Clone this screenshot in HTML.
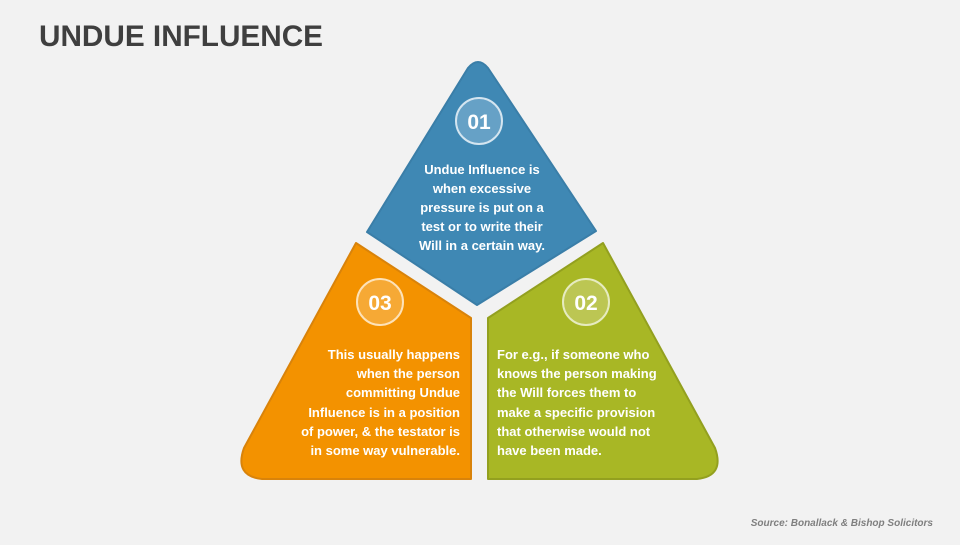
<!DOCTYPE html>
<html><head><style>
body{margin:0;width:960px;height:540px;background:#f2f2f2;overflow:hidden;font-family:"Liberation Sans",sans-serif}
</style></head><body>
<svg width="960" height="540" viewBox="0 0 960 540" xmlns="http://www.w3.org/2000/svg">
<text x="39" y="46" font-family="Liberation Sans" font-weight="bold" font-size="30" textLength="284" lengthAdjust="spacingAndGlyphs" fill="#3f3f3f">UNDUE INFLUENCE</text>
<g stroke-linejoin="round">
<path d="M468 68 Q478 56 488 68 L596 231 L477 305 L367 232 Z" fill="#3f88b4" stroke="#3a7ea8" stroke-width="2"/>
<path d="M356 243 L471 318 L471 479 L262 479 Q234 476 244 448 Z" fill="#f39200" stroke="#d9830a" stroke-width="2"/>
<path d="M603 243 L488 318 L488 479 L697 479 Q725 476 715 448 Z" fill="#a8b725" stroke="#93a01f" stroke-width="2"/>
</g>
<g font-family="Liberation Sans" font-weight="bold" fill="#fff" text-anchor="middle">
<circle cx="479" cy="121" r="23" fill="#66a1c6" stroke="#d4e5f0" stroke-width="2"/>
<text x="479" y="129" font-size="21">01</text>
<circle cx="380" cy="302" r="23" fill="#f6a935" stroke="#fde2b8" stroke-width="2"/>
<text x="380" y="310" font-size="21">03</text>
<circle cx="586" cy="302" r="23" fill="#bcc653" stroke="#e6ebc0" stroke-width="2"/>
<text x="586" y="310" font-size="21">02</text>
<g font-size="13">
<text x="482" y="174">Undue Influence is</text>
<text x="482" y="193">when excessive</text>
<text x="482" y="212">pressure is put on a</text>
<text x="482" y="231">test or to write their</text>
<text x="482" y="250">Will in a certain way.</text>
</g>
<g font-size="13" text-anchor="end">
<text x="460" y="359">This usually happens</text>
<text x="460" y="378">when the person</text>
<text x="460" y="397">committing Undue</text>
<text x="460" y="417">Influence is in a position</text>
<text x="460" y="436">of power, &amp; the testator is</text>
<text x="460" y="455">in some way vulnerable.</text>
</g>
<g font-size="13" text-anchor="start">
<text x="497" y="359">For e.g., if someone who</text>
<text x="497" y="378">knows the person making</text>
<text x="497" y="397">the Will forces them to</text>
<text x="497" y="417">make a specific provision</text>
<text x="497" y="436">that otherwise would not</text>
<text x="497" y="455">have been made.</text>
</g>
</g>
<text x="933" y="526" text-anchor="end" font-family="Liberation Sans" font-weight="bold" font-style="italic" font-size="10" fill="#7f7f7f">Source: Bonallack &amp; Bishop Solicitors</text>
</svg>
</body></html>
